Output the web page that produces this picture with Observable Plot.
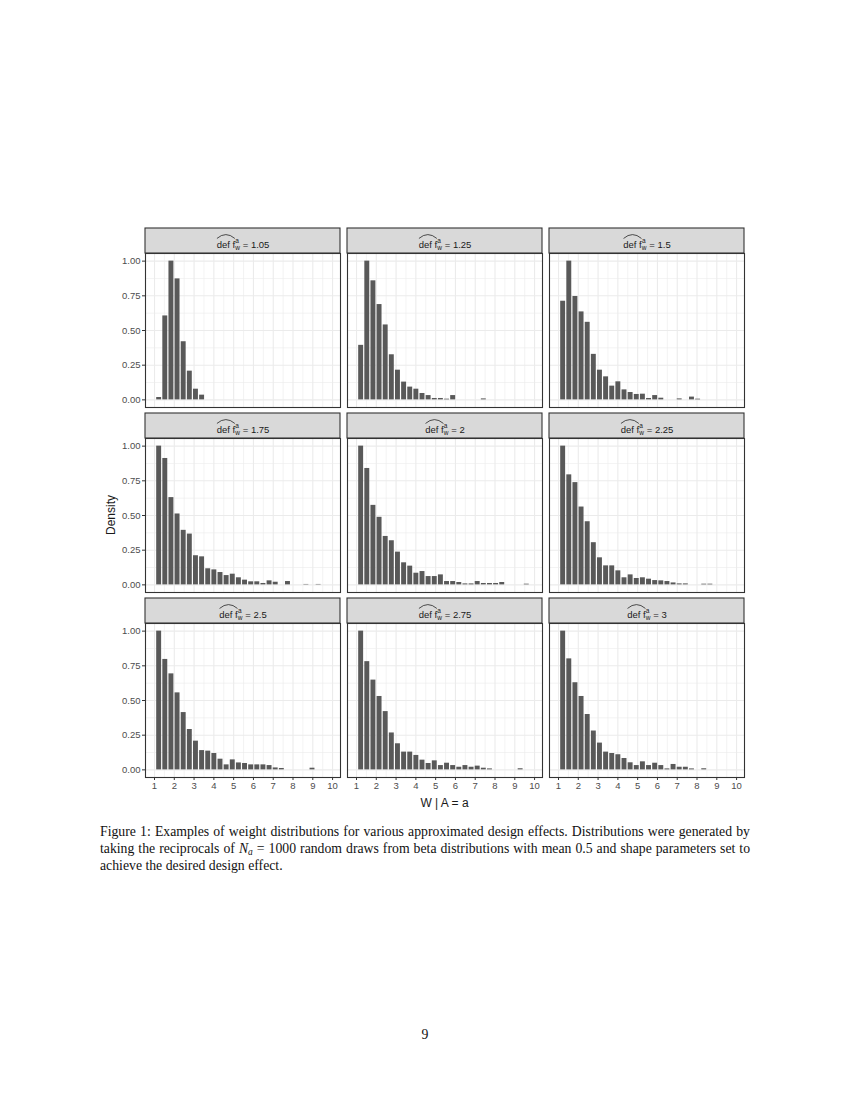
<!DOCTYPE html>
<html>
<head>
<meta charset="utf-8">
<script src="https://cdn.jsdelivr.net/npm/d3@7"></script>
<script src="https://cdn.jsdelivr.net/npm/@observablehq/plot@0.6"></script>
<style>
  html, body { margin: 0; padding: 0; background: #fff; }
  body { width: 850px; height: 1100px; position: relative; overflow: hidden; }
  #fig { position: absolute; left: 95px; top: 220px; }
  #caption { position: absolute; left: 100px; top: 824px; width: 650px;
    font-family: "Liberation Serif", "Times New Roman", serif; font-size: 13.75px; line-height: 16.5px; color: #111; }
  #caption div { text-align: justify; white-space: nowrap; }
  #caption .j { text-align-last: justify; }
  #pagenum { position: absolute; left: 0; width: 850px; top: 1027px; text-align: center;
    font-family: "Liberation Serif", "Times New Roman", serif; font-size: 13.75px; color: #111; }
</style>
</head>
<body>
<div id="fig"></div>
<div id="caption">
  <div class="j">Figure 1: Examples of weight distributions for various approximated design effects. Distributions were generated by</div>
  <div class="j">taking the reciprocals of <i>N<span style="font-size:9.5px;position:relative;top:2.5px">a</span></i> = 1000 random draws from beta distributions with mean 0.5 and shape parameters set to</div>
  <div>achieve the desired design effect.</div>
</div>
<div id="pagenum">9</div>
<script>
// ---- data (scaled density per histogram bin) ----
const panelLabels = ["1.05", "1.25", "1.5", "1.75", "2", "2.25", "2.5", "2.75", "3"];
const d105 = [0.017,0.605,1.00,0.872,0.419,0.207,0.077,0.034];
const d125 = [0.393,1.00,0.858,0.687,0.540,0.325,0.214,0.128,0.092,0.077,0.046,0.031,0.010,0.010,0.005,0.031,0,0,0,0,0.007];
const d150 = [0.711,1.00,0.745,0.634,0.559,0.328,0.214,0.166,0.099,0.130,0.072,0.053,0.039,0.041,0.010,0.031,0.012,0,0,0.007,0,0.020,0.005];
const d175 = [1.00,0.911,0.629,0.511,0.393,0.366,0.210,0.202,0.116,0.108,0.089,0.067,0.077,0.051,0.034,0.022,0.022,0.010,0.029,0.019,0,0.024,0,0,0.003,0,0.003];
const d200 = [1.00,0.839,0.573,0.487,0.349,0.318,0.236,0.159,0.135,0.084,0.096,0.060,0.060,0.072,0.024,0.024,0.017,0.007,0.007,0.024,0.010,0.010,0.010,0.017,0,0,0,0.005];
const d225 = [1.00,0.793,0.737,0.561,0.455,0.304,0.195,0.137,0.137,0.101,0.051,0.072,0.046,0.051,0.041,0.031,0.029,0.024,0.014,0.007,0.007,0,0,0.005,0.005];
const d250 = [1.00,0.796,0.692,0.555,0.413,0.291,0.207,0.139,0.135,0.118,0.077,0.036,0.072,0.050,0.046,0.036,0.036,0.036,0.031,0.014,0.010,0,0,0,0,0.012];
const d275 = [1.00,0.780,0.647,0.529,0.420,0.266,0.188,0.128,0.128,0.104,0.070,0.046,0.065,0.031,0.048,0.031,0.019,0.031,0.019,0.027,0.012,0.007,0,0,0,0,0.008];
const d300 = [1.00,0.800,0.628,0.529,0.399,0.280,0.193,0.128,0.118,0.109,0.082,0.051,0.031,0.058,0.031,0.048,0.031,0.007,0.039,0.019,0.019,0.007,0,0.008];
const panelValues = [d105, d125, d150, d175, d200, d225, d250, d275, d300];

// histogram bins (30-bin layout shared across facets)
const binStart = 1.08;
const binWidth = 0.31;

const xTicks = [1,2,3,4,5,6,7,8,9,10];
const xMinor = [1.5,2.5,3.5,4.5,5.5,6.5,7.5,8.5,9.5];
const yTicks = [0, 0.25, 0.5, 0.75, 1];
const yMinor = [0.125, 0.375, 0.625, 0.875];
const xDomain = [0.545, 10.4];
const yDomain = [-0.055, 1.055];

// ---- build tables ----
const panels = panelLabels.map((label, i) => ({label, col: i % 3, row: Math.floor(i / 3)}));
const bars = [];
panelValues.forEach((vals, i) => {
  vals.forEach((v, k) => {
    if (v > 0) bars.push({
      col: panels[i].col, row: panels[i].row,
      x1: binStart + k * binWidth, x2: binStart + (k + 1) * binWidth, y: v
    });
  });
});

const mL = 50, mR = 10, mT = 33, mB = 35;
const W = mL + 599 + mR, H = mT + 524 + mB;

const chart = Plot.plot({
  width: W, height: H,
  marginLeft: mL, marginRight: mR, marginTop: mT, marginBottom: mB,
  style: {fontFamily: "'Liberation Sans', Arial, Helvetica, sans-serif", background: "white", overflow: "visible"},
  x: {domain: xDomain},
  y: {domain: yDomain},
  fx: {domain: [0,1,2], paddingInner: 7/202, paddingOuter: 0, axis: null},
  fy: {domain: [0,1,2], paddingInner: 31/185, paddingOuter: 0, axis: null},
  marks: [
    Plot.gridX({ticks: xMinor, stroke: "#EBEBEB", strokeOpacity: 1, strokeWidth: 0.6}),
    Plot.gridY({ticks: yMinor, stroke: "#EBEBEB", strokeOpacity: 1, strokeWidth: 0.6}),
    Plot.gridX({ticks: xTicks, stroke: "#EBEBEB", strokeOpacity: 1, strokeWidth: 1.1}),
    Plot.gridY({ticks: yTicks, stroke: "#EBEBEB", strokeOpacity: 1, strokeWidth: 1.1}),
    Plot.rect(bars, {x1: "x1", x2: "x2", y1: 0, y2: "y", fx: "col", fy: "row",
      fill: "#595959", insetLeft: 0.6, insetRight: 0.6}),
    Plot.frame({stroke: "#333333", strokeWidth: 1.1}),
    Plot.rect(panels, {x1: xDomain[0], x2: xDomain[1], y1: yDomain[1], y2: yDomain[1],
      insetTop: -25, fx: "col", fy: "row", fill: "#D9D9D9", stroke: "#333333", strokeWidth: 1.1}),
    Plot.text(panels, {text: "label", fx: "col", fy: "row", frameAnchor: "top", dy: -12.5,
      fontSize: 9.5, fill: "#1A1A1A", ariaDescription: "strip-label"}),
    Plot.axisX({ticks: xTicks, facetAnchor: "bottom", anchor: "bottom", tickSize: 3, tickPadding: 2,
      fontSize: 9.5, fill: "#4D4D4D", stroke: "#333333", label: null, tickFormat: d => String(d)}),
    Plot.axisY({ticks: yTicks, facetAnchor: "left", anchor: "left", tickSize: 3, tickPadding: 2,
      fontSize: 9.5, fill: "#4D4D4D", stroke: "#333333", label: null, tickFormat: d3.format(".2f")})
  ]
});

document.getElementById("fig").appendChild(chart);

// ---- strip labels: widehat{deff}_w^a = value ----
const svg = d3.select(chart.tagName.toLowerCase() === "svg" ? chart : chart.querySelector("svg"));
let stripTexts = svg.selectAll('g[aria-description="strip-label"] text');
if (stripTexts.empty()) {
  stripTexts = svg.selectAll("text").filter(function() { return panelLabels.includes(this.textContent); });
}
stripTexts.each(function() {
  const value = this.textContent;
  const t = d3.select(this);
  t.text(null);
  t.append("tspan").text("def f");
  t.append("tspan").attr("font-size", 6.5).attr("dy", 2.5).text("w");
  t.append("tspan").attr("font-size", 6.5).attr("dx", -4.6).attr("dy", -6.8).text("a");
  t.append("tspan").attr("font-size", 9.5).attr("dy", 4.3).attr("dx", 1.2).text(" = " + value);
  try {
    const p0 = this.getStartPositionOfChar(0);
    const p1 = this.getEndPositionOfChar(4);
    const mx = (p0.x + p1.x) / 2;
    d3.select(this.parentNode).append("path")
      .attr("transform", this.getAttribute("transform"))
      .attr("d", `M${p0.x + 0.3},${p0.y - 9.3} Q${mx},${p0.y - 17} ${p1.x - 0.3},${p0.y - 9.3}`)
      .attr("fill", "none").attr("stroke", "#1A1A1A").attr("stroke-width", 0.75);
  } catch (e) {}
});

// ---- axis titles ----
svg.append("text")
  .attr("transform", `translate(17,${mT + 262}) rotate(-90)`)
  .attr("text-anchor", "middle").attr("dominant-baseline", "middle")
  .attr("font-size", 12).attr("fill", "#1A1A1A").text("Density");
svg.append("text")
  .attr("x", mL + 299.5).attr("y", H - 5)
  .attr("text-anchor", "middle")
  .attr("font-size", 12).attr("fill", "#1A1A1A").text("W | A = a");
</script>
</body>
</html>
